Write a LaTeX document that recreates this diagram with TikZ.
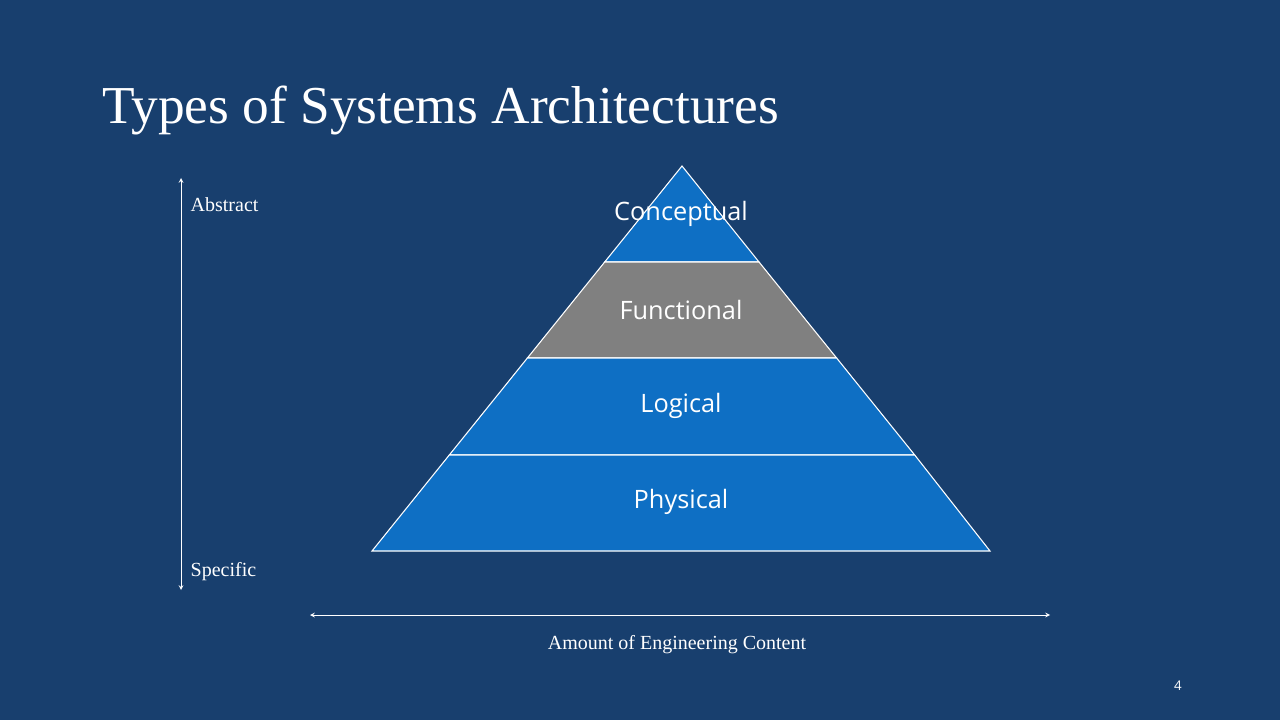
\documentclass[tikz,border=0pt]{standalone}
\usepackage{fontspec}
\setmainfont{Liberation Serif}
\newfontfamily\labfont{Open Sans}
\definecolor{bg}{HTML}{183F6E}
\definecolor{pblue}{HTML}{0E6FC4}
\definecolor{pgray}{HTML}{808080}
\begin{document}
\begin{tikzpicture}[x=0.75pt,y=-0.75pt,
  band/.style={draw=white,line width=0.8pt},
  lab/.style={text=white,font=\labfont\fontsize{19}{22}\selectfont},
  side/.style={text=white,font=\fontsize{15}{18}\selectfont},
  arr/.style={draw=white,line width=0.6pt,<->,>=stealth}]
\fill[bg] (0,0) rectangle (1280,720);
\useasboundingbox (0,0) rectangle (1280,720);
\node[anchor=base west,text=white,font=\fontsize{40}{46}\selectfont] (title) at (98,124) {Types of Systems Architectures};
\fill[pblue,band] (682,166) -- (759,262) -- (604.7,262) -- cycle;
\fill[pgray,band] (604.7,262) -- (759,262) -- (836.6,358) -- (527.4,358) -- cycle;
\fill[pblue,band] (527.4,358) -- (836.6,358) -- (914.7,455) -- (449.3,455) -- cycle;
\fill[pblue,band] (449.3,455) -- (914.7,455) -- (990,551) -- (372,551) -- cycle;
\node[lab] (c) at (681,214) {Conceptual};
\node[lab] (f) at (681,310) {Functional};
\node[lab] (l) at (681,406) {Logical};
\node[lab] (p) at (681,502) {Physical};
\coordinate (vt) at (181,178); \coordinate (vb) at (181,590);
\draw[arr] (vt) -- (vb);
\node[side,anchor=west] (ab) at (186,205) {Abstract};
\node[side,anchor=west] (sp) at (186,572) {Specific};
\coordinate (hl) at (310,615); \coordinate (hr) at (1050,615);
\draw[arr] (hl) -- (hr);
\node[side] (amt) at (677,645) {Amount of Engineering Content};
\node[text=white,font=\labfont\fontsize{10}{12}\selectfont] (pg) at (1178,686) {4};
\end{tikzpicture}
\end{document}
